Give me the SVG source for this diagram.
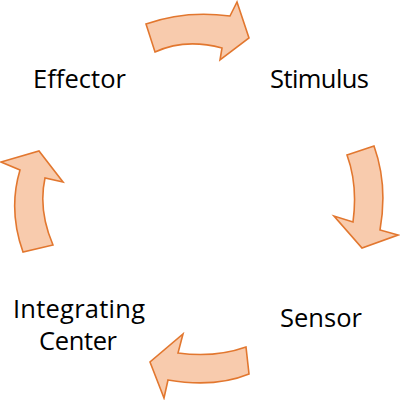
<svg xmlns="http://www.w3.org/2000/svg" width="400" height="400" viewBox="0 0 400 400">
<style>
.arrow{fill:#F8CBAD;stroke:#E2772F;stroke-width:1.6;stroke-linejoin:miter}
.lbl{font-family:"Open Sans","Noto Sans","Liberation Sans",sans-serif;font-size:25.5px;fill:#000;text-anchor:middle}
</style>
<rect width="400" height="400" fill="#fff"/>
<g id="connectors">
<path class="arrow" d="M146,24 Q185,10 230,16 L237,2 L249,38 L220,60 L222,48 Q185,38 155,52 Z"/>
<path class="arrow" d="M347,155 L374,146 Q388,185 380,230 L398,235 L362,248 L334,216 L353,222 Q358,185 347,155 Z"/>
<path class="arrow" d="M246,347 Q215,358 178,353 L183,334 L150,362 L164,398 L168,380 Q215,388 249,374 Z"/>
<path class="arrow" d="M23,252 Q8,210 20,170 L1,162 L39,151 L63,182 L45,178 Q38,210 53,245 Z"/>
</g>
<g id="stimulus"><text class="lbl" x="319.5" y="88" textLength="99">Stimulus</text></g>
<g id="sensor"><text class="lbl" x="321" y="327" textLength="82">Sensor</text></g>
<g id="integrating-center"><text class="lbl" x="79" y="318" textLength="132">Integrating</text><text class="lbl" x="78" y="350" textLength="78">Center</text></g>
<g id="effector"><text class="lbl" x="79.5" y="88" textLength="93">Effector</text></g>
</svg>
